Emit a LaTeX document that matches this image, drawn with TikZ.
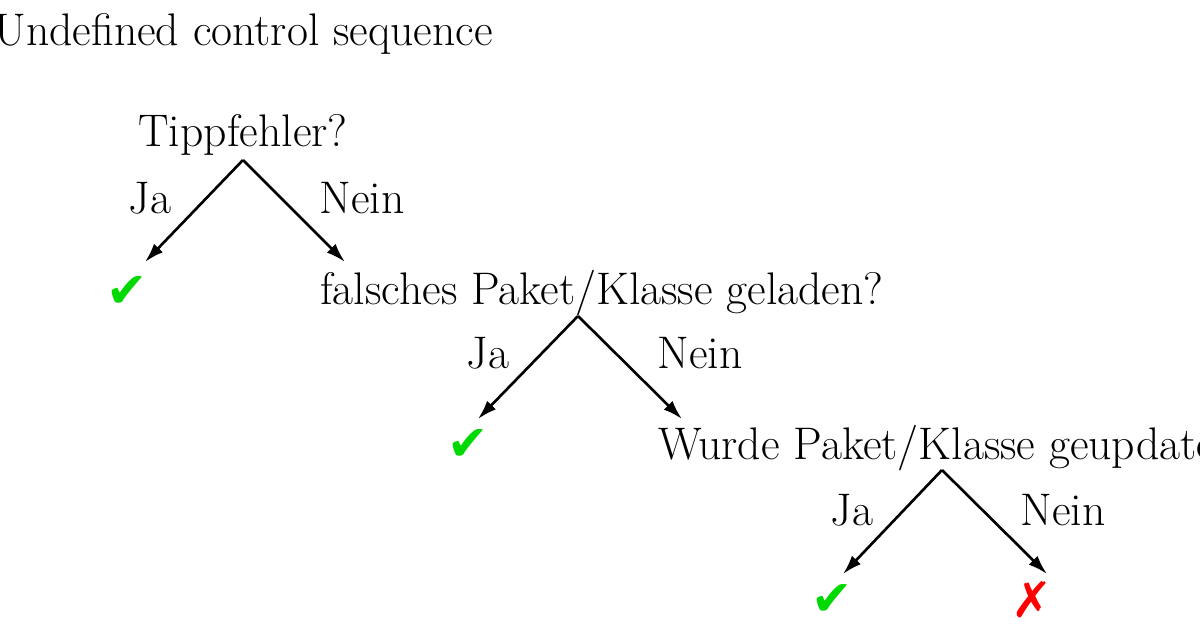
\documentclass[tikz,border=0pt]{standalone}
\usepackage{fontspec}
\usetikzlibrary{arrows.meta}
\newfontfamily\symfont{DejaVu Sans}
\begin{document}
\begin{tikzpicture}[x=0.02cm,y=-0.02cm,
  txt/.style={inner sep=0pt,font=\fontsize{26}{30}\selectfont},
  lbl/.style={inner sep=0pt,font=\fontsize{26}{30}\selectfont},
  ok/.style={inner sep=0pt,text=green!85!black,font=\symfont\fontsize{28}{32}\selectfont},
  bad/.style={inner sep=0pt,text=red,font=\symfont\fontsize{28}{32}\selectfont},
  arr/.style={-{Latex[length=11pt,width=7pt]},line width=1.5pt}]
\useasboundingbox (0,0) rectangle (1200,630);
\clip (0,0) rectangle (1200,630);
\node[txt,anchor=base west] (title) at (-6,45) {Undefined control sequence};
\node[txt] (q1) at (243,135) {Tippfehler?};
\coordinate (s1) at (243,160);
\coordinate (a1) at (145,262);
\coordinate (b1) at (345,262);
\draw[arr] (s1) -- (a1);
\draw[arr] (s1) -- (b1);
\node[lbl] (j1) at (150,198) {Ja};
\node[lbl] (n1) at (362,198) {Nein};
\node[ok] (c1) at (127,292) {✔};
\node[txt,anchor=west] (q2) at (320,293) {falsches Paket/Klasse geladen?};
\coordinate (s2) at (578,316);
\coordinate (a2) at (478,419);
\coordinate (b2) at (682,419);
\draw[arr] (s2) -- (a2);
\draw[arr] (s2) -- (b2);
\node[lbl] (j2) at (488,353) {Ja};
\node[lbl] (n2) at (700,353) {Nein};
\node[ok] (c2) at (468,445) {✔};
\node[txt,anchor=west] (q3) at (658,448) {Wurde Paket/Klasse geupdated?};
\coordinate (s3) at (942,470);
\coordinate (a3) at (843,574);
\coordinate (b3) at (1047,574);
\draw[arr] (s3) -- (a3);
\draw[arr] (s3) -- (b3);
\node[lbl] (j3) at (852,510) {Ja};
\node[lbl] (n3) at (1063,510) {Nein};
\node[ok] (c3) at (832,600) {✔};
\node[bad] (x3) at (1032,600) {✗};
\end{tikzpicture}
\end{document}
